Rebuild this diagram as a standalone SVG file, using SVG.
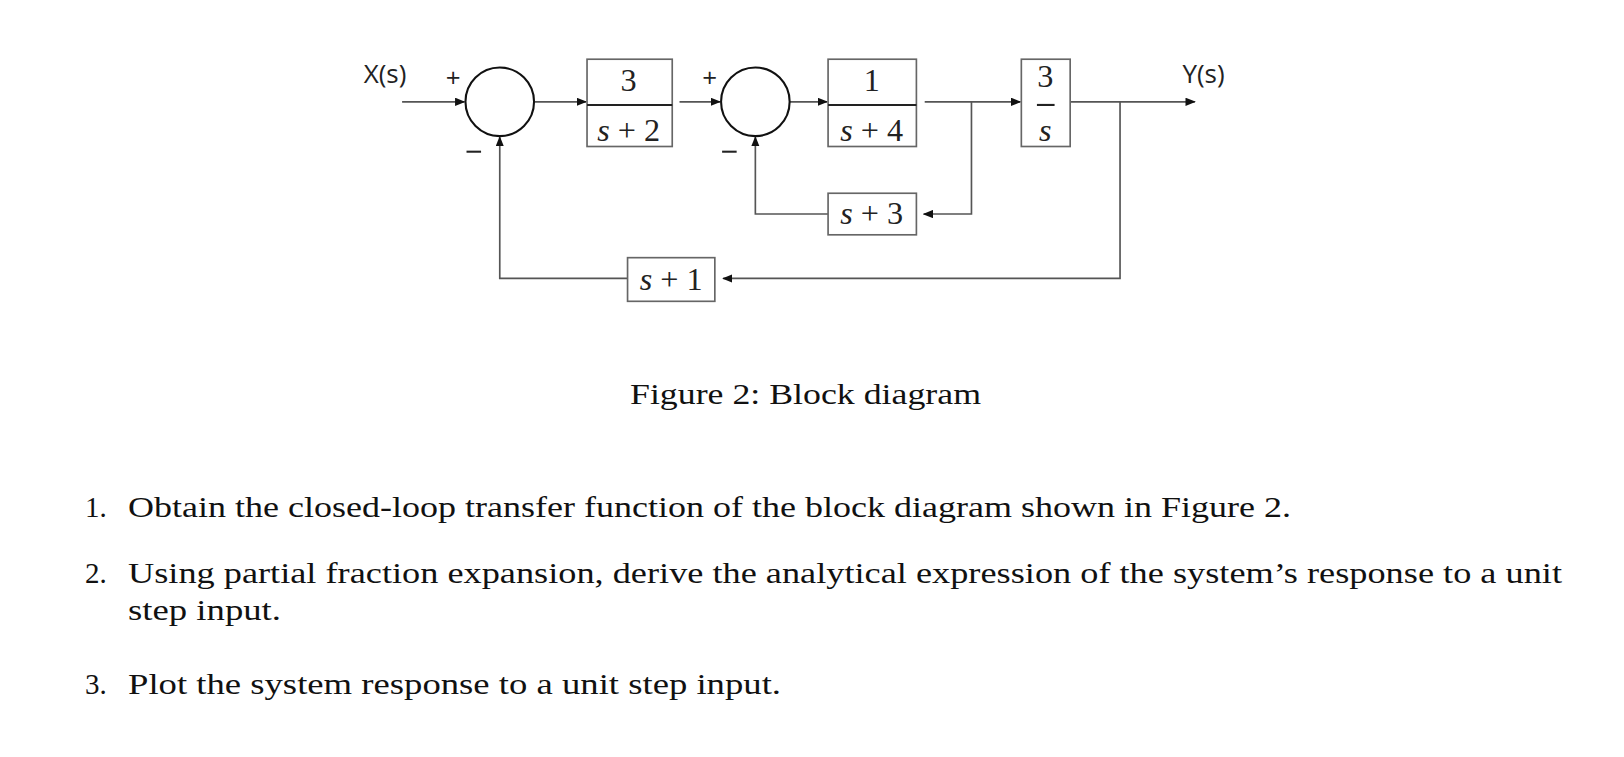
<svg xmlns="http://www.w3.org/2000/svg" width="1624" height="757" viewBox="0 0 1624 757">
<defs>
<marker id="a" markerWidth="10" markerHeight="8" refX="9" refY="4" orient="auto" markerUnits="userSpaceOnUse"><path d="M0,0 L10,4 L0,8 Z" fill="#111"/></marker>
</defs>
<style>
.l{stroke:#555;stroke-width:1.6;fill:none}
.b{fill:#fff;stroke:#666;stroke-width:1.6}
.c{fill:#fff;stroke:#111;stroke-width:2}
.m{font-family:"Liberation Serif",serif;font-size:31px;fill:#222;text-anchor:middle}
.s{font-family:"Open Sans","Liberation Sans",sans-serif;font-size:25px;fill:#222}
.t{font-family:"Liberation Serif",serif;font-size:29px;fill:#111}
</style>
<rect width="1624" height="757" fill="#fff"/>
<g transform="scale(1.039)">
<g id="connectors">
<path class="l" d="M387,98 H447" marker-end="url(#a)"/>
<path class="l" d="M514,98 H564" marker-end="url(#a)"/>
<path class="l" d="M654,98 H693" marker-end="url(#a)"/>
<path class="l" d="M760,98 H796" marker-end="url(#a)"/>
<path class="l" d="M890,98 H982" marker-end="url(#a)"/>
<path class="l" d="M1030,98 H1150" marker-end="url(#a)"/>
<path class="l" d="M935,98 V206 H889" marker-end="url(#a)"/>
<path class="l" d="M797,206 H727 V132" marker-end="url(#a)"/>
<path class="l" d="M1078,98 V268 H696" marker-end="url(#a)"/>
<path class="l" d="M604,268 H481 V132" marker-end="url(#a)"/>
</g>
<g id="sum1"><circle class="c" cx="481" cy="98" r="33"/><text class="s" x="429" y="84">+</text><path d="M449,146 H463" stroke="#222" stroke-width="2"/></g>
<g id="sum2"><circle class="c" cx="727" cy="98" r="33"/><text class="s" x="676" y="84">+</text><path d="M695,146 H709" stroke="#222" stroke-width="2"/></g>
<g id="g1"><rect class="b" x="565" y="57" width="82" height="84"/><path d="M565,101 H647" stroke="#222" stroke-width="2"/><text class="m" x="605" y="88">3</text><text class="m" x="605" y="136"><tspan font-style="italic">s</tspan> + 2</text></g>
<g id="g2"><rect class="b" x="797" y="57" width="85" height="84"/><path d="M797,101 H882" stroke="#222" stroke-width="2"/><text class="m" x="839" y="88">1</text><text class="m" x="839" y="136"><tspan font-style="italic">s</tspan> + 4</text></g>
<g id="g3"><rect class="b" x="983" y="57" width="47" height="84"/><path d="M998,101 H1015" stroke="#222" stroke-width="2"/><text class="m" x="1006" y="84">3</text><text class="m" x="1006" y="136" font-style="italic">s</text></g>
<g id="h1"><rect class="b" x="797" y="186" width="85" height="40"/><text class="m" x="839" y="216"><tspan font-style="italic">s</tspan> + 3</text></g>
<g id="h2"><rect class="b" x="604" y="248" width="84" height="42"/><text class="m" x="646" y="279"><tspan font-style="italic">s</tspan> + 1</text></g>
<text class="s" x="350" y="80">X(s)</text>
<text class="s" x="1138" y="80">Y(s)</text>
</g>
<text class="t" x="630" y="404" font-size="31" textLength="351" lengthAdjust="spacingAndGlyphs">Figure 2: Block diagram</text>
<text class="t" x="85" y="517">1.</text>
<text class="t" x="128" y="517" textLength="1163" lengthAdjust="spacingAndGlyphs">Obtain the closed-loop transfer function of the block diagram shown in Figure 2.</text>
<text class="t" x="85" y="583">2.</text>
<text class="t" x="128" y="583" textLength="1434" lengthAdjust="spacingAndGlyphs">Using partial fraction expansion, derive the analytical expression of the system’s response to a unit</text>
<text class="t" x="128" y="620" textLength="153" lengthAdjust="spacingAndGlyphs">step input.</text>
<text class="t" x="85" y="694">3.</text>
<text class="t" x="128" y="694" textLength="653" lengthAdjust="spacingAndGlyphs">Plot the system response to a unit step input.</text>
</svg>
